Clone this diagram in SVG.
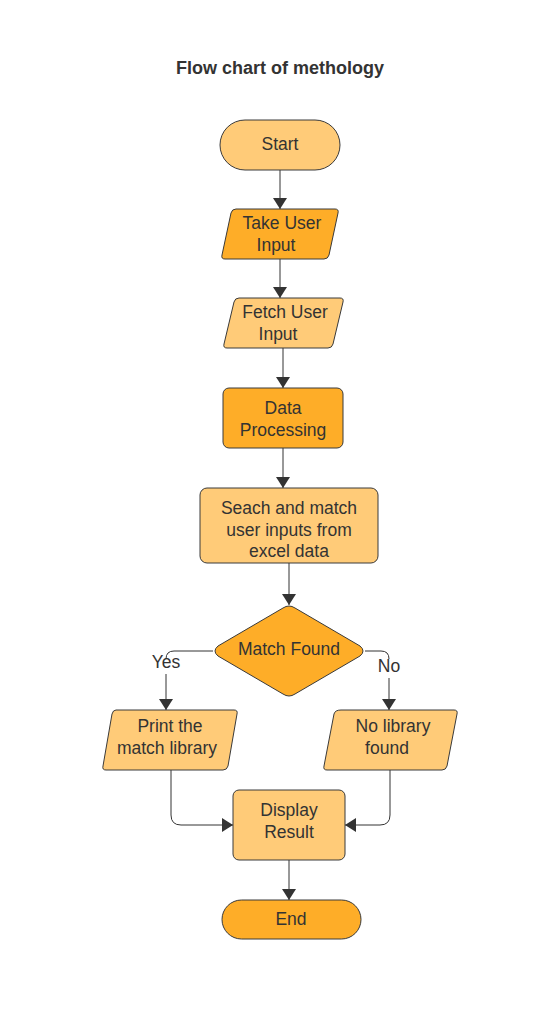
<svg xmlns="http://www.w3.org/2000/svg" width="539" height="1016" viewBox="0 0 539 1016">
<style>
.light{fill:#FFCB78;stroke:#3a3a3a;stroke-width:1}
.dark{fill:#FEAD28;stroke:#3a3a3a;stroke-width:1}
.t{font-family:"Liberation Sans",Arial,sans-serif;font-size:17.5px;fill:#333;text-anchor:middle}
.title{font-family:"Liberation Sans",Arial,sans-serif;font-size:18px;font-weight:bold;fill:#333;text-anchor:middle}
.c{fill:none;stroke:#333;stroke-width:1}
</style>
<defs>
<marker id="ah" markerWidth="11" markerHeight="14" refX="10" refY="5" orient="auto" markerUnits="userSpaceOnUse" viewBox="0 0 10 10" preserveAspectRatio="none">
<path d="M0,0 L10,5 L0,10 z" fill="#333"/>
</marker>
</defs>
<rect width="539" height="1016" fill="#fff"/>
<text class="title" x="280" y="74">Flow chart of methology</text>
<g id="connectors">
<path class="c" d="M280,170 V209" marker-end="url(#ah)"/>
<path class="c" d="M280,259 V298" marker-end="url(#ah)"/>
<path class="c" d="M283,348 V388" marker-end="url(#ah)"/>
<path class="c" d="M283,448 V488" marker-end="url(#ah)"/>
<path class="c" d="M289,563 V605" marker-end="url(#ah)"/>
<path class="c" d="M213,651 H174 Q166,651 166,659"/>
<path class="c" d="M166,674 V710" marker-end="url(#ah)"/>
<path class="c" d="M365,651 H381 Q389,651 389,659"/>
<path class="c" d="M389,678 V710" marker-end="url(#ah)"/>
<path class="c" d="M171,770 V815 Q171,825 181,825 H233" marker-end="url(#ah)"/>
<path class="c" d="M390,770 V815 Q390,825 380,825 H345" marker-end="url(#ah)"/>
<path class="c" d="M289,860 V900" marker-end="url(#ah)"/>
<text class="t" x="166" y="668">Yes</text>
<text class="t" x="389" y="672">No</text>
</g>
<g id="start">
<rect class="light" x="220" y="120" width="120" height="50" rx="25"/>
<text class="t" x="280" y="150">Start</text>
</g>
<g id="take-input">
<path class="dark" d="M236,209 H335 Q339,209 338,213 L329,255 Q328,259 324,259 H225 Q221,259 222,255 L231,213 Q232,209 236,209 z"/>
<text class="t" x="282" y="229">Take User</text>
<text class="t" x="276" y="251">Input</text>
</g>
<g id="fetch-input">
<path class="light" d="M239,298 H340 Q344,298 343,302 L333,344 Q332,348 328,348 H227 Q223,348 224,344 L234,302 Q235,298 239,298 z"/>
<text class="t" x="285" y="318">Fetch User</text>
<text class="t" x="278" y="340">Input</text>
</g>
<g id="data-processing">
<rect class="dark" x="223" y="388" width="120" height="60" rx="6"/>
<text class="t" x="283" y="414">Data</text>
<text class="t" x="283" y="436">Processing</text>
</g>
<g id="search">
<rect class="light" x="200" y="488" width="178" height="75" rx="7"/>
<text class="t" x="289" y="514">Seach and match</text>
<text class="t" x="289" y="536">user inputs from</text>
<text class="t" x="289" y="557">excel data</text>
</g>
<g id="match-found">
<path class="dark" d="M283,608 Q289,604 295,608 L360,646 Q366,651 360,656 L295,694 Q289,698 283,694 L218,656 Q212,651 218,646 z"/>
<text class="t" x="289" y="655">Match Found</text>
</g>
<g id="print-match">
<path class="light" d="M116,710 H234 Q238,710 237,714 L228,766 Q227,770 223,770 H106 Q102,770 103,766 L112,714 Q113,710 116,710 z"/>
<text class="t" x="170" y="732">Print the</text>
<text class="t" x="167" y="754">match library</text>
</g>
<g id="no-library">
<path class="light" d="M341,710 H454 Q458,710 457,714 L447,766 Q446,770 442,770 H327 Q323,770 324,766 L334,714 Q335,710 341,710 z"/>
<text class="t" x="393" y="732">No library</text>
<text class="t" x="387" y="754">found</text>
</g>
<g id="display-result">
<rect class="light" x="233" y="790" width="112" height="70" rx="6"/>
<text class="t" x="289" y="816">Display</text>
<text class="t" x="289" y="838">Result</text>
</g>
<g id="end">
<rect class="dark" x="222" y="900" width="139" height="39" rx="19.5"/>
<text class="t" x="291" y="925">End</text>
</g>
</svg>
